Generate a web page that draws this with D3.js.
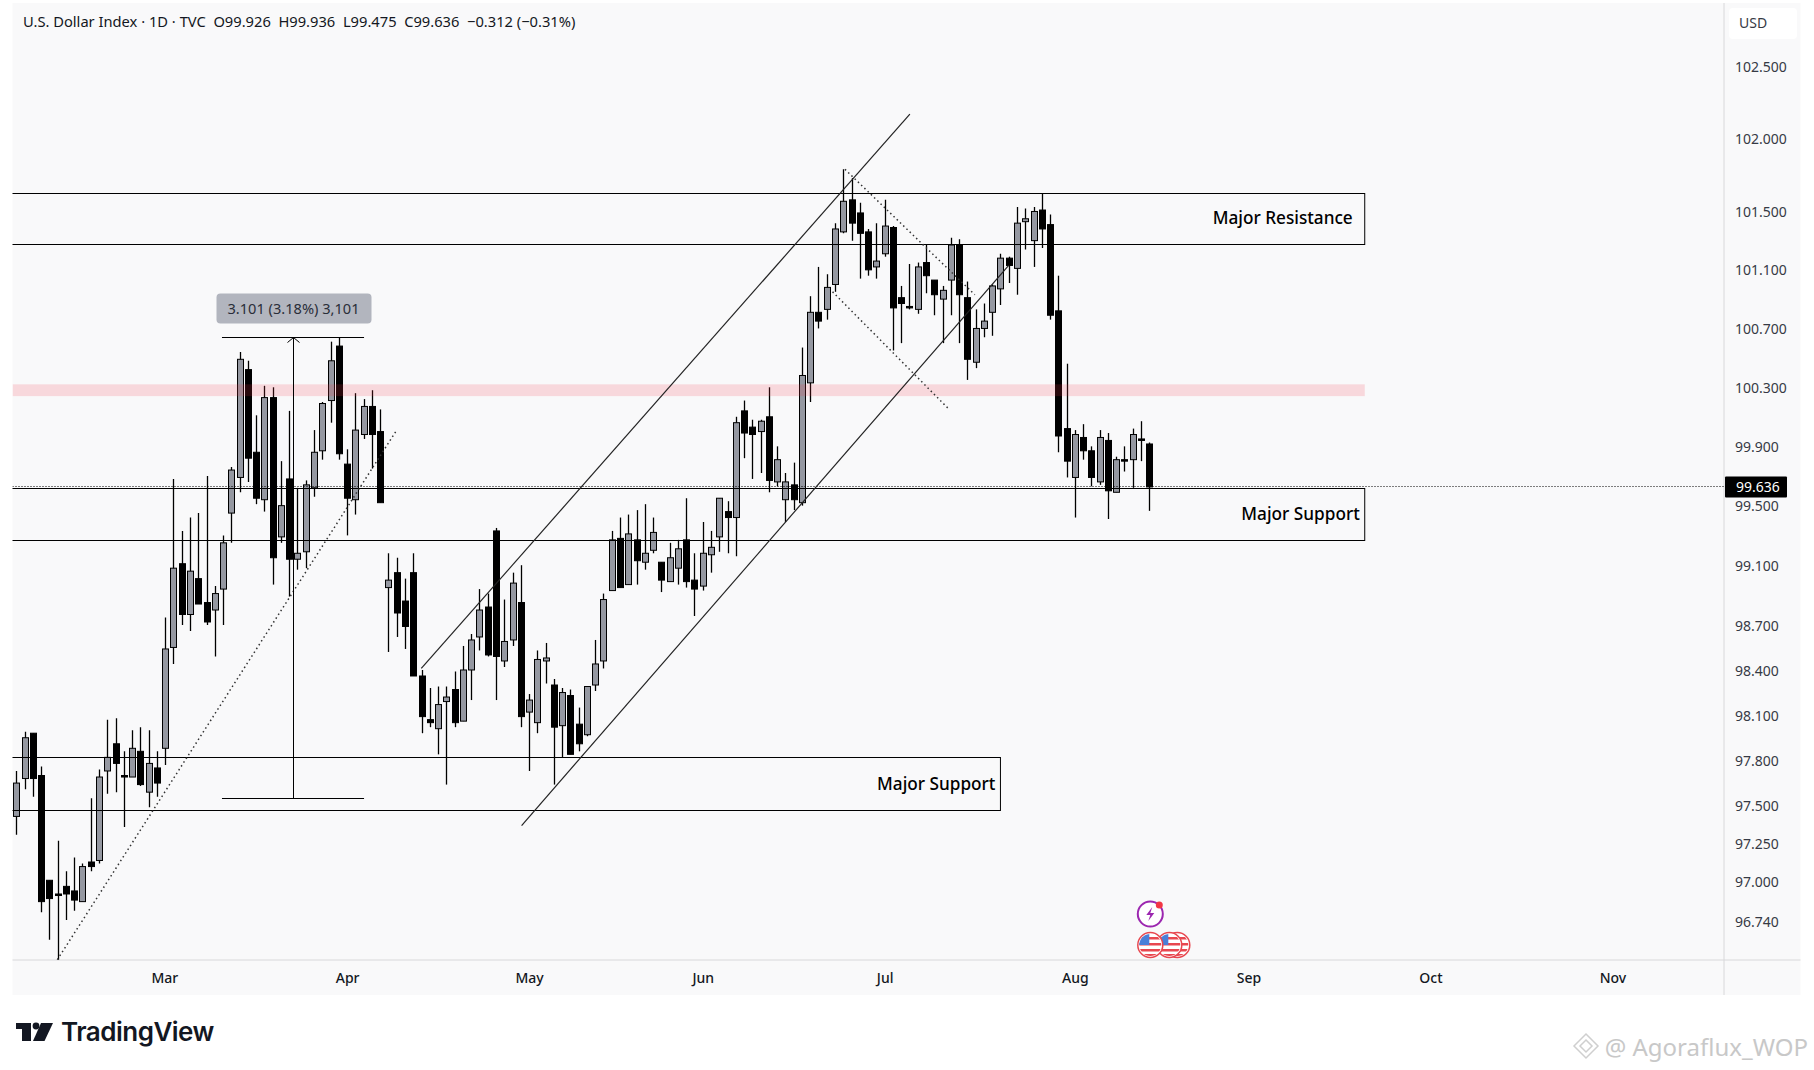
<!DOCTYPE html>
<html>
<head>
<meta charset="utf-8">
<title>U.S. Dollar Index</title>
<script src="https://cdn.jsdelivr.net/npm/d3@7"></script>
<style>
  html, body { margin: 0; padding: 0; background: #fff; }
  svg { display: block; }
  text { font-family: "Noto Sans", sans-serif; }
</style>
</head>
<body>
<svg id="chart" width="1814" height="1070"></svg>
<script>
// daily bars
const opens = [
  97.44,97.69,97.99,97.71,97.02,96.93,96.98,96.95,96.88,97.14,
  97.15,97.74,97.92,97.71,97.70,97.87,97.60,97.76,97.89,98.56,
  99.12,98.78,99.02,98.86,98.81,98.95,99.46,99.70,100.43,99.87,
  99.55,100.24,99.30,99.69,99.15,99.20,99.63,99.88,100.22,100.59,
  99.79,99.55,99.99,100.18,100.01,98.96,99.06,98.87,99.06,98.37,
  98.08,98.02,98.20,98.28,98.07,98.41,98.63,98.83,99.34,98.47,
  98.61,98.86,98.13,98.06,98.47,98.31,98.04,98.24,98.05,97.98,
  98.31,98.47,98.94,99.29,98.98,99.28,99.13,99.21,99.13,99.00,
  99.09,99.28,99.01,98.97,99.18,99.30,99.47,99.43,100.15,100.04,
  100.01,100.11,99.67,99.55,99.65,99.53,100.34,100.82,100.84,101.01,
  101.37,101.59,101.50,101.37,101.13,101.22,101.40,100.92,100.86,100.84,
  101.16,101.04,100.91,101.04,101.28,100.92,100.48,100.71,100.82,100.98,
  101.19,101.12,101.44,101.31,101.52,101.42,100.83,100.03,99.70,99.97,
  99.88,99.67,99.95,99.60,99.82,99.82,99.96,99.926
];
const highs = [
  97.74,98.00,97.99,97.77,97.02,97.28,97.08,97.17,97.13,97.56,
  97.75,98.08,98.09,97.87,98.01,98.03,98.01,97.87,98.76,99.69,
  99.34,99.43,99.46,99.71,98.97,99.31,99.77,100.55,100.49,100.12,
  100.32,100.31,99.81,100.15,99.63,99.68,100.02,100.21,100.62,100.65,
  99.89,100.27,100.23,100.29,100.16,99.19,99.16,99.02,99.19,98.41,
  98.29,98.30,98.30,98.40,98.57,98.65,98.95,98.92,99.36,98.88,
  99.06,99.11,98.25,98.54,98.59,98.35,98.29,98.28,98.16,98.30,
  98.61,98.92,99.34,99.43,99.45,99.48,99.52,99.43,99.13,99.26,
  99.28,99.56,99.19,99.40,99.34,99.56,99.54,100.11,100.22,100.09,
  100.09,100.31,99.91,99.73,99.80,100.58,100.93,101.13,101.08,101.43,
  101.80,101.74,101.57,101.39,101.43,101.59,101.41,101.00,101.15,101.16,
  101.28,101.04,101.00,101.33,101.32,101.03,100.84,100.88,101.01,101.22,
  101.20,101.54,101.53,101.54,101.63,101.49,101.07,100.47,100.02,100.06,
  99.91,100.02,100.00,99.84,99.91,100.03,100.08,99.936
];
const lows = [
  97.32,97.62,97.57,96.81,96.63,96.50,96.76,96.82,96.88,97.08,
  97.13,97.59,97.60,97.37,97.70,97.64,97.50,97.57,97.78,98.45,
  98.71,98.67,98.85,98.71,98.50,98.71,99.26,99.60,99.67,99.52,
  99.47,98.98,99.26,98.90,99.08,99.09,99.57,99.82,100.07,99.82,
  99.31,99.45,99.96,99.76,99.53,98.53,98.63,98.55,98.37,97.99,
  98.03,97.85,97.65,98.03,98.07,98.21,98.54,98.50,98.21,98.43,
  98.57,98.03,97.74,97.99,98.32,97.65,97.83,97.85,97.87,97.97,
  98.27,98.42,98.94,98.96,98.98,98.98,99.08,99.19,98.93,99.00,
  98.98,98.96,98.77,98.94,99.06,99.20,99.19,99.17,99.83,99.69,
  99.73,99.60,99.64,99.40,99.48,99.51,100.21,100.71,100.77,100.96,
  101.36,101.31,101.05,101.07,101.05,101.20,100.56,100.61,100.84,100.81,
  100.95,100.80,100.61,100.80,100.61,100.36,100.44,100.65,100.66,100.87,
  101.02,100.94,101.25,101.13,101.26,100.77,99.87,99.70,99.43,99.82,
  99.64,99.65,99.42,99.60,99.74,99.63,99.81,99.475
];
const closes = [
  97.66,97.96,97.69,96.88,96.90,96.92,96.93,96.89,97.11,97.11,
  97.70,97.83,97.79,97.70,97.89,97.65,97.79,97.66,98.55,99.09,
  98.78,99.07,98.85,98.73,98.92,99.26,99.75,100.50,99.83,99.56,
  100.24,99.16,99.51,99.15,99.19,99.65,99.87,100.20,100.49,99.86,
  99.56,100.02,100.18,99.99,99.53,99.01,98.79,98.70,98.37,98.10,
  98.06,98.18,98.23,98.06,98.41,98.61,98.81,98.51,98.50,98.60,
  98.99,98.10,98.21,98.48,98.49,98.03,98.26,97.85,97.92,98.30,
  98.45,98.88,99.28,98.96,99.32,99.14,99.19,99.33,99.01,99.16,
  99.22,99.00,98.95,99.19,99.23,99.56,99.43,100.07,100.00,99.99,
  100.08,99.68,99.82,99.67,99.55,100.39,100.82,100.76,100.99,101.39,
  101.58,101.43,101.36,101.11,101.17,101.41,100.85,100.88,100.85,101.13,
  101.07,100.94,100.97,101.28,100.94,100.50,100.71,100.76,101.00,101.19,
  101.14,101.43,101.46,101.51,101.39,100.80,99.98,99.81,99.99,99.88,
  99.70,99.97,99.61,99.82,99.81,99.99,99.95,99.636
];

const priceTicks = [102.5, 102, 101.5, 101.1, 100.7, 100.3, 99.9, 99.5, 99.1, 98.7, 98.4, 98.1, 97.8, 97.5, 97.25, 97, 96.74];
const monthLabels = ['Mar', 'Apr', 'May', 'Jun', 'Jul', 'Aug', 'Sep', 'Oct', 'Nov'];
const monthBars = [17.9, 40, 62, 83, 105, 128, 149, 171, 193];

const lastPrice = 99.636;
const headerText = 'U.S. Dollar Index · 1D · TVC  O99.926  H99.936  L99.475  C99.636  −0.312 (−0.31%)';

// drawings, as [bar, price] pairs
const zoneNames = ['Major Resistance', 'Major Support', 'Major Support'];
const zoneTops = [101.64, 99.63, 97.83];
const zoneBottoms = [101.285, 99.28, 97.48];
const zoneEnds = [163.05, 163.05, 119];
const pinkBand = [100.33, 100.25];
const channelUpper = [[48.97, 98.42], [108.05, 102.18]];
const channelLower = [[61.1, 97.38], [120, 101.14]];
const dottedRise = [[4.96, 96.5], [46, 100.02]];
const dottedFallUpper = [[100.2, 101.8], [115.9, 100.94]];
const dottedFallLower = [[98.7, 100.96], [112.8, 100.16]];
const rangeBars = [24.87, 33.5, 42.05];
const rangePrices = [97.56, 100.65];
const rangeLabel = '3.101 (3.18%) 3,101';

let svg = d3.select('#chart');

let plot = { left: 12.5, right: 1724, top: 3, bottom: 960, panelRight: 1800.5, panelBottom: 995 };

let x = d3.scaleLinear().domain([0, 137]).range([16.3, 1149.3]);
let y = d3.scaleLog().domain([96.74, 102.5]).range([923, 68]);

// Crisp 1px positions
let px = (v) => Math.round(x(v)) + 0.5;
let py = (v) => Math.round(y(v)) + 0.5;

// BACKGROUND
svg.append('rect')
  .attr('x', plot.left)
  .attr('y', plot.top)
  .attr('width', plot.panelRight - plot.left)
  .attr('height', plot.panelBottom - plot.top)
  .attr('fill', '#f9f9fa');

svg.append('defs').append('clipPath')
  .attr('id', 'plot-clip')
  .append('rect')
  .attr('x', plot.left)
  .attr('y', plot.top)
  .attr('width', plot.right - plot.left)
  .attr('height', plot.bottom - plot.top);

// AXIS LINES
svg.append('line')
  .attr('x1', plot.right).attr('x2', plot.right)
  .attr('y1', plot.top).attr('y2', plot.panelBottom)
  .attr('stroke', '#d8d8da');

svg.append('line')
  .attr('x1', plot.left).attr('x2', plot.panelRight)
  .attr('y1', plot.bottom).attr('y2', plot.bottom)
  .attr('stroke', '#d8d8da');

// Y Axis
let yAxis = svg.append('g')
  .attr('class', 'axis axis-y')
  .attr('transform', `translate(${plot.right}, 0)`)
  .call(d3.axisRight(y).tickValues(priceTicks).tickSize(0).tickFormat(d3.format('.3f')));

yAxis.select('.domain').remove();
yAxis.selectAll('text')
  .attr('x', 11)
  .attr('dy', '0.26em')
  .attr('fill', '#363a45')
  .style('font-size', '14px')
  .style('font-family', '"Noto Sans", sans-serif');

// X Axis
let xAxis = svg.append('g')
  .attr('class', 'axis axis-x')
  .attr('transform', `translate(0, ${plot.bottom})`)
  .call(d3.axisBottom(x).tickValues(monthBars).tickSize(0).tickFormat((d, i) => monthLabels[i]));

xAxis.select('.domain').remove();
xAxis.selectAll('text')
  .attr('y', 13)
  .attr('fill', '#131722')
  .style('font-size', '14px')
  .style('font-weight', '500')
  .style('font-family', '"Noto Sans", sans-serif');

// USD box
svg.append('rect')
  .attr('x', 1729).attr('y', 8)
  .attr('width', 68).attr('height', 31)
  .attr('rx', 4)
  .attr('fill', '#ffffff');

svg.append('text')
  .attr('x', 1739).attr('y', 28)
  .attr('font-size', 14)
  .attr('fill', '#363a45')
  .text('USD');

// CANDLES
let chart = svg.append('g').attr('clip-path', 'url(#plot-clip)');
let bars = d3.range(opens.length);

chart.append('g')
  .attr('class', 'wicks')
  .selectAll('line')
  .data(bars)
  .enter().append('line')
  .attr('x1', px).attr('x2', px)
  .attr('y1', (i) => y(highs[i]))
  .attr('y2', (i) => y(lows[i]))
  .attr('stroke', '#000')
  .attr('stroke-width', 1.3);

chart.append('g')
  .attr('class', 'bodies')
  .selectAll('rect')
  .data(bars)
  .enter().append('rect')
  .attr('x', (i) => px(i) - 3)
  .attr('width', 6)
  .attr('y', (i) => y(Math.max(opens[i], closes[i])))
  .attr('height', (i) => Math.max(1, y(Math.min(opens[i], closes[i])) - y(Math.max(opens[i], closes[i]))))
  .attr('fill', (i) => closes[i] >= opens[i] ? '#9598a1' : '#000')
  .attr('stroke', '#000')
  .attr('stroke-width', 1);

// Pink band sits over the candles
chart.append('rect')
  .attr('x', plot.left)
  .attr('width', x(zoneEnds[0]) - plot.left)
  .attr('y', y(pinkBand[0]))
  .attr('height', y(pinkBand[1]) - y(pinkBand[0]))
  .attr('fill', '#f23645')
  .attr('fill-opacity', 0.17);

// Last price line
chart.append('line')
  .attr('x1', plot.left).attr('x2', plot.right)
  .attr('y1', py(lastPrice) - 1).attr('y2', py(lastPrice) - 1)
  .attr('stroke', '#000')
  .attr('stroke-dasharray', '1,2');

// ZONES
zoneNames.forEach((name, i) => {
  chart.append('rect')
    .attr('x', plot.left - 5)
    .attr('y', py(zoneTops[i]))
    .attr('width', x(zoneEnds[i]) - plot.left + 5)
    .attr('height', py(zoneBottoms[i]) - py(zoneTops[i]))
    .attr('fill', 'none')
    .attr('stroke', '#000')
    .attr('stroke-width', 1);

  chart.append('text')
    .attr('x', x(zoneEnds[i]) - (i === 0 ? 12 : 5))
    .attr('y', (y(zoneTops[i]) + y(zoneBottoms[i])) / 2 + 6)
    .attr('text-anchor', 'end')
    .attr('font-size', 17.2)
    .attr('font-weight', 500)
    .attr('fill', '#000')
    .text(name);
});

// TREND LINES
let line = d3.line()
  .x((d) => x(d[0]))
  .y((d) => y(d[1]));

[channelUpper, channelLower].forEach((pts) => {
  chart.append('path')
    .attr('d', line(pts))
    .attr('fill', 'none')
    .attr('stroke', '#222')
    .attr('stroke-width', 1.2);
});

[dottedRise, dottedFallUpper, dottedFallLower].forEach((pts) => {
  chart.append('path')
    .attr('d', line(pts))
    .attr('fill', 'none')
    .attr('stroke', '#333')
    .attr('stroke-width', 1.5)
    .attr('stroke-dasharray', '1.5,3');
});

// PRICE RANGE TOOL
let range = chart.append('g').attr('class', 'price-range');

rangePrices.forEach((p) => {
  range.append('line')
    .attr('x1', x(rangeBars[0])).attr('x2', x(rangeBars[2]))
    .attr('y1', py(p)).attr('y2', py(p))
    .attr('stroke', '#000');
});

range.append('line')
  .attr('x1', px(rangeBars[1])).attr('x2', px(rangeBars[1]))
  .attr('y1', py(rangePrices[0])).attr('y2', py(rangePrices[1]))
  .attr('stroke', '#000');

range.append('path')
  .attr('d', `M${px(rangeBars[1]) - 6},${py(rangePrices[1]) + 5}L${px(rangeBars[1])},${py(rangePrices[1])}L${px(rangeBars[1]) + 6},${py(rangePrices[1]) + 5}`)
  .attr('fill', 'none')
  .attr('stroke', '#000');

range.append('rect')
  .attr('x', px(rangeBars[1]) - 77)
  .attr('y', py(rangePrices[1]) - 44)
  .attr('width', 155)
  .attr('height', 30)
  .attr('rx', 4)
  .attr('fill', '#b2b5be');

range.append('text')
  .attr('x', px(rangeBars[1]))
  .attr('y', py(rangePrices[1]) - 24)
  .attr('text-anchor', 'middle')
  .attr('font-size', 14.6)
  .attr('fill', '#2a2e39')
  .text(rangeLabel);

// LAST PRICE TAG
svg.append('rect')
  .attr('x', plot.right + 1).attr('y', y(lastPrice) - 10.5)
  .attr('width', 62).attr('height', 21)
  .attr('rx', 1)
  .attr('fill', '#000');

svg.append('text')
  .attr('x', plot.right + 12).attr('y', y(lastPrice) + 5)
  .attr('font-size', 14)
  .attr('fill', '#fff')
  .text(d3.format('.3f')(lastPrice));

// HEADER
svg.append('text')
  .attr('x', 23).attr('y', 27)
  .attr('font-size', 14.7)
  .attr('fill', '#131722')
  .style('white-space', 'pre')
  .text(headerText);

// EVENT ICONS
let evX = x(137) + 1;
let bolt = svg.append('g').attr('transform', `translate(${evX}, 914)`);
bolt.append('circle').attr('r', 12.5).attr('fill', '#fff').attr('stroke', '#9c27b0').attr('stroke-width', 2);
bolt.append('path').attr('d', 'M2,-7L-4,1L0,1L-2,7L4,-1L0,-1Z').attr('fill', '#9c27b0');
bolt.append('circle').attr('cx', 9).attr('cy', -9).attr('r', 3.5).attr('fill', '#f23645');

[27, 19, 0].forEach((dx, k) => {
  let flag = svg.append('g').attr('transform', `translate(${evX + dx}, 945)`);
  let id = `flag-${k}`;
  flag.append('clipPath').attr('id', id).append('circle').attr('r', 11);
  flag.append('circle').attr('r', 12.5).attr('fill', '#fff').attr('stroke', '#e8474f').attr('stroke-width', 1.5);
  let inner = flag.append('g').attr('clip-path', `url(#${id})`);
  [-8, -2, 4, 9].forEach((s) => {
    inner.append('rect').attr('x', -12).attr('y', s).attr('width', 24).attr('height', 2.5).attr('fill', '#e8474f');
  });
  inner.append('rect').attr('x', -12).attr('y', -12).attr('width', 11).attr('height', 12).attr('fill', '#4a7fd8');
});

// FOOTER
let logo = svg.append('g').attr('fill', '#131722');
logo.append('path').attr('d', 'M16,1023H31V1041H22V1029H16Z');
logo.append('circle').attr('cx', 36).attr('cy', 1026).attr('r', 3.4);
logo.append('path').attr('d', 'M41,1023H53L44.5,1041H33Z');

svg.append('text')
  .attr('x', 61).attr('y', 1041)
  .attr('font-size', 26)
  .attr('font-weight', 600)
  .attr('fill', '#131722')
  .style('font-family', 'Inter, sans-serif')
  .style('letter-spacing', '-0.5px')
  .text('TradingView');

svg.append('path')
  .attr('d', 'M1586,1034L1598,1046L1586,1058L1574,1046Z M1586,1040L1592,1046L1586,1052L1580,1046Z')
  .attr('fill', 'none')
  .attr('stroke', '#cfcfcf')
  .attr('stroke-width', 1.5);

svg.append('text')
  .attr('x', 1808).attr('y', 1056)
  .attr('text-anchor', 'end')
  .attr('font-size', 24)
  .attr('fill', '#c8c8c8')
  .text('@ Agoraflux_WOP');
</script>
</body>
</html>
